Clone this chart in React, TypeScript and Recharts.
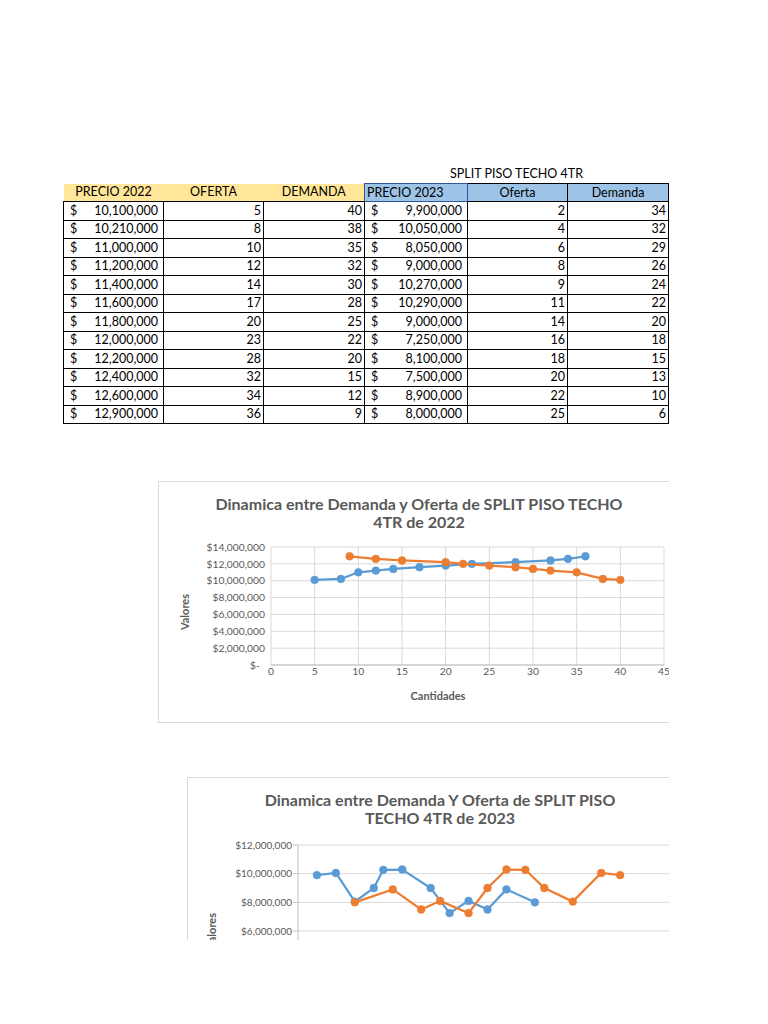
import React from "react";
import {
  ScatterChart,
  Scatter,
  XAxis,
  YAxis,
  CartesianGrid,
} from "recharts";

const tableTitle = "SPLIT PISO TECHO 4TR";
const headers2022 = ["PRECIO 2022", "OFERTA", "DEMANDA"];
const headers2023 = ["PRECIO 2023", "Oferta", "Demanda"];

const precio2022 = [10100000, 10210000, 11000000, 11200000, 11400000, 11600000, 11800000, 12000000, 12200000, 12400000, 12600000, 12900000];
const oferta2022 = [5, 8, 10, 12, 14, 17, 20, 23, 28, 32, 34, 36];
const demanda2022 = [40, 38, 35, 32, 30, 28, 25, 22, 20, 15, 12, 9];

const precio2023 = [9900000, 10050000, 8050000, 9000000, 10270000, 10290000, 9000000, 7250000, 8100000, 7500000, 8900000, 8000000];
const oferta2023 = [2, 4, 6, 8, 9, 11, 14, 16, 18, 20, 22, 25];
const demanda2023 = [34, 32, 29, 26, 24, 22, 20, 18, 15, 13, 10, 6];

const title2022 = ["Dinamica entre Demanda y Oferta de SPLIT PISO TECHO", "4TR de 2022"];
const title2023 = ["Dinamica entre Demanda Y Oferta de SPLIT PISO", "TECHO 4TR de 2023"];
const xAxisTitle = "Cantidades";
const yAxisTitle = "Valores";

const xTicks2022 = [0, 5, 10, 15, 20, 25, 30, 35, 40, 45];
const yTicks2022 = [0, 2000000, 4000000, 6000000, 8000000, 10000000, 12000000, 14000000];
const xTicks2023 = [0, 5, 10, 15, 20, 25, 30, 35, 40];
const yTicks2023 = [0, 2000000, 4000000, 6000000, 8000000, 10000000, 12000000];

const BLUE = "#5B9BD5";
const ORANGE = "#ED7D31";
const GRID = "#d9d9d9";
const TEXT = "#595959";
const FONT = "Lato, 'Open Sans', sans-serif";

const fmtNum = (v: number) => v.toLocaleString("en-US");
const fmtMoney = (v: number) => (v === 0 ? "$-\u00a0\u00a0" : "$" + fmtNum(v));

const ofertaSeries2022 = oferta2022.map((q, i) => ({ x: q, y: precio2022[i] }));
const demandaSeries2022 = demanda2022.map((q, i) => ({ x: q, y: precio2022[i] }));
const ofertaSeries2023 = oferta2023.map((q, i) => ({ x: q, y: precio2023[i] }));
const demandaSeries2023 = demanda2023.map((q, i) => ({ x: q, y: precio2023[i] }));

const dot = (color: string) => (props: any) => (
  <circle cx={props.cx} cy={props.cy} r={3.9} fill={color} stroke={color} strokeWidth={0.5} />
);

const border = "1px solid #000";

function PriceCell({ v, bg }: { v: number; bg?: string }) {
  return (
    <td style={{ border, padding: "0 5px 0 6px", background: bg }}>
      <div style={{ display: "flex", justifyContent: "space-between" }}>
        <span>$</span>
        <span>{fmtNum(v)}</span>
      </div>
    </td>
  );
}

function DataTable() {
  const tdNum: React.CSSProperties = { border, textAlign: "right", padding: "0 2px 0 0" };
  return (
    <div style={{ position: "absolute", left: 63, top: 166, fontFamily: FONT, fontSize: 12.5, color: "#000" }}>
      <div style={{ position: "absolute", left: 302, width: 303, top: 0, height: 16, textAlign: "center", lineHeight: "16px" }}>
        {tableTitle}
      </div>
      <table
        style={{
          position: "absolute",
          top: 17,
          left: 0,
          borderCollapse: "collapse",
          tableLayout: "fixed",
          width: 606,
          lineHeight: "14px",
        }}
      >
        <colgroup>
          <col style={{ width: 100 }} />
          <col style={{ width: 100 }} />
          <col style={{ width: 101 }} />
          <col style={{ width: 103 }} />
          <col style={{ width: 100 }} />
          <col style={{ width: 101 }} />
        </colgroup>
        <tbody>
          <tr style={{ height: 18 }}>
            {headers2022.map((h) => (
              <td key={h} style={{ background: "#FFE699", textAlign: "center", padding: 0, borderBottom: border }}>
                {h}
              </td>
            ))}
            {headers2023.map((h, i) => (
              <td
                key={h}
                style={{
                  background: "#9DC3E6",
                  textAlign: i === 0 ? "left" : "center",
                  padding: i === 0 ? "0 0 0 2px" : 0,
                  border: i === 0 ? "1px solid #2F5597" : border,
                }}
              >
                {h}
              </td>
            ))}
          </tr>
          {precio2022.map((p, i) => (
            <tr key={i} style={{ height: 18.5 }}>
              <PriceCell v={p} />
              <td style={tdNum}>{oferta2022[i]}</td>
              <td style={tdNum}>{demanda2022[i]}</td>
              <PriceCell v={precio2023[i]} />
              <td style={tdNum}>{oferta2023[i]}</td>
              <td style={tdNum}>{demanda2023[i]}</td>
            </tr>
          ))}
        </tbody>
      </table>
    </div>
  );
}

function ChartTitle({ lines, width }: { lines: string[]; width: number }) {
  return (
    <div
      style={{
        position: "absolute",
        left: 0,
        top: 13,
        width,
        textAlign: "center",
        fontFamily: FONT,
        fontWeight: 700,
        fontSize: 16,
        lineHeight: "17.5px",
        color: TEXT,
        zIndex: 2,
      }}
    >
      {lines.map((l) => (
        <div key={l}>{l}</div>
      ))}
    </div>
  );
}

function RotatedTitle({ text, cx, cy }: { text: string; cx: number; cy: number }) {
  return (
    <div
      style={{
        position: "absolute",
        left: cx - 40,
        top: cy - 8,
        width: 80,
        height: 16,
        lineHeight: "16px",
        textAlign: "center",
        transform: "rotate(-90deg)",
        fontFamily: FONT,
        fontWeight: 700,
        fontSize: 11,
        color: TEXT,
      }}
    >
      {text}
    </div>
  );
}

const tickStyle1 = { fontFamily: FONT, fontSize: 10.3, fill: TEXT };
const tickStyle2 = { fontFamily: FONT, fontSize: 10, fill: TEXT };

function Chart2022() {
  return (
    <div
      style={{
        position: "absolute",
        left: 158,
        top: 481,
        width: 560,
        height: 242,
        border: `1px solid ${GRID}`,
        boxSizing: "border-box",
        background: "#fff",
      }}
    >
      <ChartTitle lines={title2022} width={520} />
      <RotatedTitle text={yAxisTitle} cx={26} cy={130} />
      <div
        style={{
          position: "absolute",
          left: 0,
          width: 558,
          top: 207,
          textAlign: "center",
          fontFamily: FONT,
          fontWeight: 700,
          fontSize: 11,
          color: TEXT,
        }}
      >
        <span style={{ position: "absolute", left: 279 - 28, width: 56 }}>{xAxisTitle}</span>
      </div>
      <ScatterChart width={558} height={240} margin={{ top: 65, right: 53, left: 20, bottom: 27 }}>
        <CartesianGrid stroke={GRID} strokeWidth={1} verticalValues={xTicks2022} horizontalValues={yTicks2022} />
        <XAxis
          type="number"
          dataKey="x"
          domain={[0, 45]}
          ticks={xTicks2022}
          interval={0}
          tickLine={false}
          tickSize={0}
          tickMargin={3}
          axisLine={{ stroke: "#bfbfbf" }}
          tick={tickStyle1}
          height={30}
        />
        <YAxis
          type="number"
          dataKey="y"
          domain={[0, 14000000]}
          ticks={yTicks2022}
          interval={0}
          tickLine={false}
          tickSize={0}
          tickMargin={6}
          axisLine={false}
          tick={tickStyle1}
          tickFormatter={fmtMoney}
          width={92}
        />
        <Scatter
          name="Oferta"
          data={ofertaSeries2022}
          fill={BLUE}
          line={{ stroke: BLUE, strokeWidth: 2.25 }}
          lineType="joint"
          shape={dot(BLUE)}
          isAnimationActive={false}
        />
        <Scatter
          name="Demanda"
          data={demandaSeries2022}
          fill={ORANGE}
          line={{ stroke: ORANGE, strokeWidth: 2.25 }}
          lineType="joint"
          shape={dot(ORANGE)}
          isAnimationActive={false}
        />
      </ScatterChart>
    </div>
  );
}

function Chart2023() {
  return (
    <div
      style={{
        position: "absolute",
        left: 187,
        top: 777,
        width: 540,
        height: 300,
        border: `1px solid ${GRID}`,
        boxSizing: "border-box",
        background: "#fff",
      }}
    >
      <ChartTitle lines={title2023} width={504} />
      <RotatedTitle text={yAxisTitle} cx={24} cy={153} />
      <ScatterChart width={538} height={298} margin={{ top: 67, right: 49, left: 18, bottom: 29 }}>
        <CartesianGrid stroke={GRID} strokeWidth={1} verticalValues={xTicks2023} horizontalValues={yTicks2023} />
        <XAxis
          type="number"
          dataKey="x"
          domain={[0, 40]}
          ticks={xTicks2023}
          interval={0}
          tickLine={false}
          tickSize={0}
          tick={false}
          axisLine={{ stroke: "#bfbfbf" }}
          height={30}
        />
        <YAxis
          type="number"
          dataKey="y"
          domain={[0, 12000000]}
          ticks={yTicks2023}
          interval={0}
          tickLine={{ stroke: "#bfbfbf" }}
          tickSize={5}
          tickMargin={1}
          axisLine={{ stroke: "#bfbfbf" }}
          tick={tickStyle2}
          tickFormatter={fmtMoney}
          width={92}
        />
        <Scatter
          name="Oferta"
          data={ofertaSeries2023}
          fill={BLUE}
          line={{ stroke: BLUE, strokeWidth: 2.25 }}
          lineType="joint"
          shape={dot(BLUE)}
          isAnimationActive={false}
        />
        <Scatter
          name="Demanda"
          data={demandaSeries2023}
          fill={ORANGE}
          line={{ stroke: ORANGE, strokeWidth: 2.25 }}
          lineType="joint"
          shape={dot(ORANGE)}
          isAnimationActive={false}
        />
      </ScatterChart>
    </div>
  );
}

export default function App() {
  return (
    <div style={{ position: "absolute", left: 0, top: 0, width: 768, height: 1024, background: "#fff" }}>
      <div style={{ position: "absolute", left: 0, top: 0, width: 669, height: 940, overflow: "hidden" }}>
        <DataTable />
        <Chart2022 />
        <Chart2023 />
      </div>
    </div>
  );
}
